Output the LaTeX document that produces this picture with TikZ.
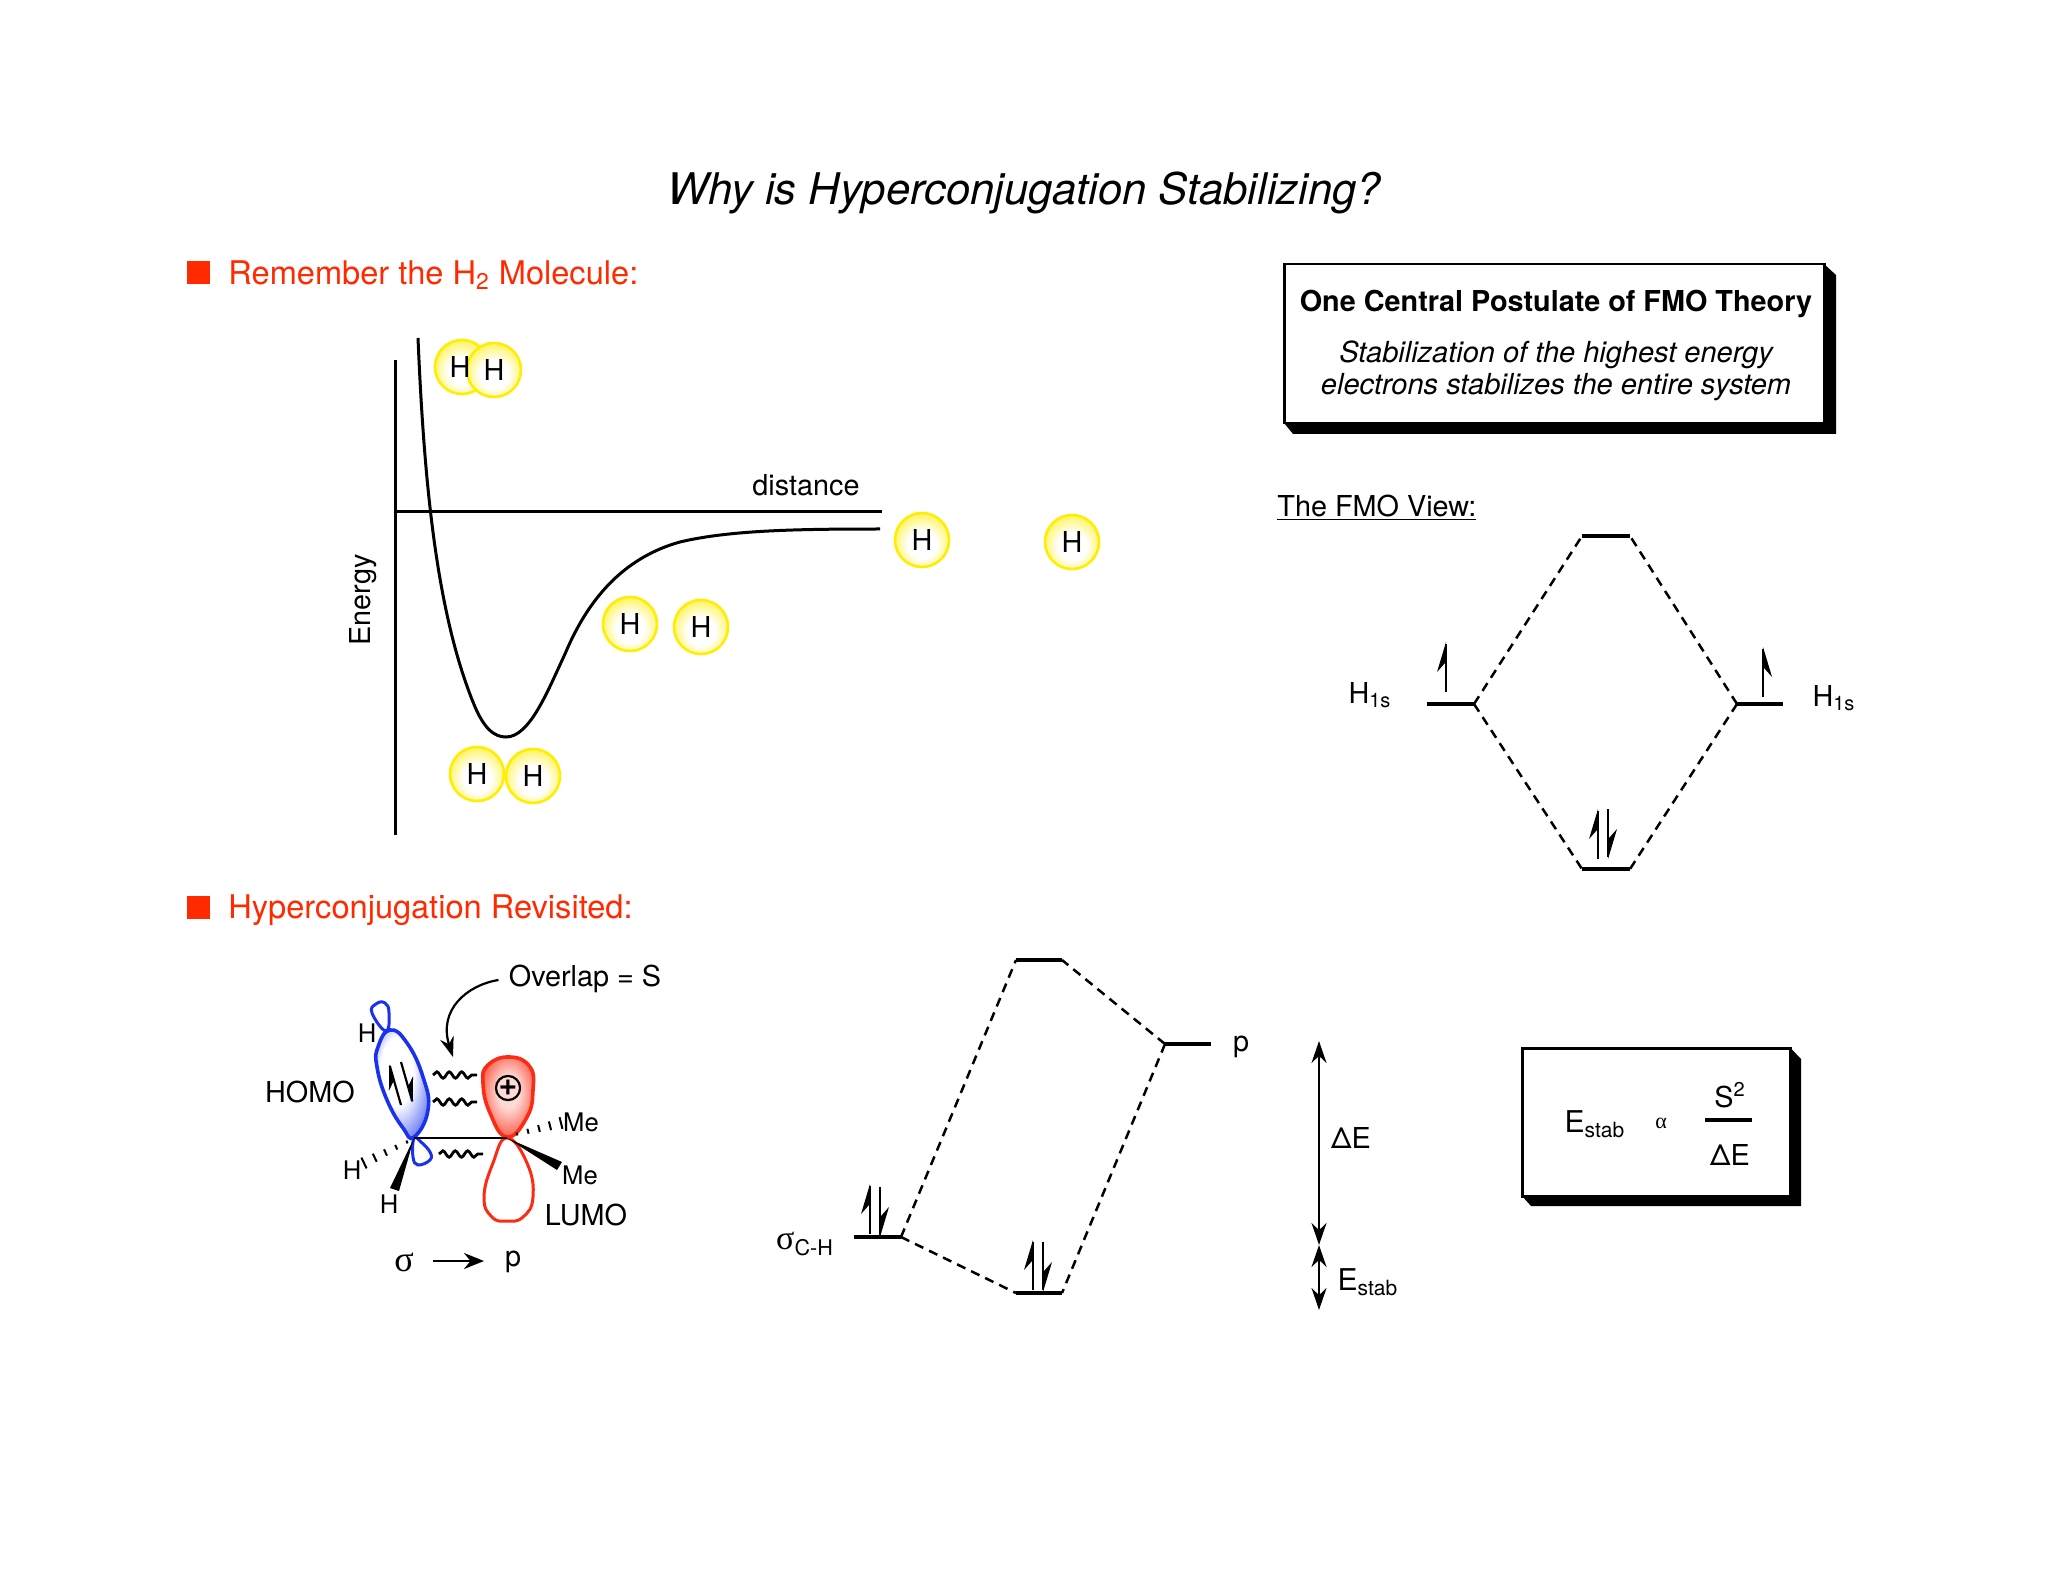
\documentclass[tikz,border=0pt]{standalone}
\usepackage{fontspec}
\setmainfont{TeX Gyre Heros}
\newfontfamily\greekfont{Liberation Serif}
\usetikzlibrary{arrows.meta,calc,decorations.pathmorphing}
\definecolor{headred}{RGB}{255,42,0}
\definecolor{lobeblue}{RGB}{25,50,235}
\definecolor{lobered}{RGB}{250,45,20}
\definecolor{ballyellow}{RGB}{255,238,0}
\pgfdeclareradialshading{homoshade}{\pgfpoint{-7bp}{8bp}}{color(0bp)=(white); color(15bp)=(white); color(40bp)=(lobeblue); color(60bp)=(lobeblue)}
\pgfdeclareradialshading{lumoshade}{\pgfpoint{0bp}{4bp}}{color(0bp)=(lobered!18); color(10bp)=(lobered!18); color(34bp)=(lobered); color(60bp)=(lobered)}
\pgfdeclareradialshading{ballshade}{\pgfpoint{0bp}{-5bp}}{color(0bp)=(white); color(13bp)=(white); color(27bp)=(ballyellow!60); color(39bp)=(ballyellow); color(60bp)=(ballyellow)}
\newcommand{\fs}[1]{\fontsize{#1}{#1}\selectfont}
\begin{document}
\begin{tikzpicture}[x=0.5pt,y=-0.5pt,
    pics/spin/.style={code={
      \draw[line width=1.1pt] (0,0) -- (0,-48);
      \fill (0,-50) -- (-9,-20) -- (-1,-29) -- cycle;}}]
\tikzstyle{every node}=[inner sep=0pt,font=\fs{14.4}]
\tikzstyle{hatom}=[circle,minimum size=27pt,draw=ballyellow,line width=1.3pt,shade,shading=ballshade,font=\fs{14.4}]
\tikzstyle{heading}=[anchor=west,text=headred,font=\fs{16.3}]
\tikzstyle{axis}=[line width=1.5pt]
\tikzstyle{level}=[line width=1.6pt]
\tikzstyle{dashline}=[line width=1.25pt,dash pattern=on 4.6pt off 3.2pt]
\tikzstyle{bullet}=[fill=headred,minimum size=11.5pt]
\tikzstyle{shadowbox}=[fill=black]
\tikzstyle{framebox}=[draw,fill=white,line width=1.3pt]
\tikzstyle{twohead}=[line width=0.9pt,{Stealth[length=11pt,width=7.5pt]}-{Stealth[length=11pt,width=7.5pt]}]
\tikzstyle{squiggle}=[line width=1.4pt,decorate,decoration={snake,segment length=6.2pt,amplitude=1.6pt}]
\tikzstyle{small}=[font=\fs{12.8}]
\useasboundingbox (0,0) rectangle (2048,1582);

\node[font=\fs{21.8}\itshape] (title) at (1024,193) {Why is Hyperconjugation Stabilizing?};
\node[bullet] (b1) at (198,273) {};
\node[heading] (h1) at (228,275) {Remember the H\textsubscript{2} Molecule:};
\node[bullet] (b2) at (198,907) {};
\node[heading] (h2) at (228,910) {Hyperconjugation Revisited:};

\draw[axis] (395,360) coordinate (ya) -- (395,835) coordinate (yb);
\draw[axis] (395,512) coordinate (xa) -- (882,512) coordinate (xb);
\draw[axis] (418,338) .. controls (424,480) and (436,610) .. (473,702) .. controls (484,730) and (495,737) .. (506,737) .. controls (530,737) and (548,690) .. (565,654) .. controls (583,611) and (615,560) .. (680,542) .. controls (730,530) and (800,529) .. (880,529);
\node[rotate=90] (energy) at (363,600) {Energy};
\node (dist) at (806,485) {distance};
\node[hatom] (ha) at (462,367) {};
\node[hatom] (hb) at (494,370) {H};
\node[font=\fs{14.4}] (hat) at (460,367) {H};
\node[hatom] (hc) at (922,540) {H};
\node[hatom] (hd) at (1072,542) {H};
\node[hatom] (he) at (630,624) {H};
\node[hatom] (hf) at (701,627) {H};
\node[hatom] (hg) at (477,774) {H};
\node[hatom] (hh) at (533,776) {H};

\fill[shadowbox] (1824,264) -- (1836,275) -- (1836,434) -- (1293,434) -- (1284,423) -- cycle;
\node[framebox,minimum width=270pt,minimum height=79.5pt] (postbox) at (1554.5,343.5) {};
\node[font=\fs{14.4}\bfseries] (post) at (1556,304) {One Central Postulate of FMO Theory};
\node[font=\fs{14.5}\itshape] (stab1) at (1556,355) {Stabilization of the highest energy};
\node[font=\fs{14.5}\itshape] (stab2) at (1556,387) {electrons stabilizes the entire system};
\node[anchor=west] (view) at (1277,508) {\underline{The FMO View:}};

\coordinate (ta) at (1582,536);
\coordinate (tb) at (1630,536);
\coordinate (la) at (1427,704);
\coordinate (lb) at (1474,704);
\coordinate (ra) at (1737,704);
\coordinate (rb) at (1783,704);
\coordinate (ba) at (1582,869);
\coordinate (bb) at (1630,869);
\draw[level] (ta) -- (tb);
\draw[level] (la) -- (lb);
\draw[level] (ra) -- (rb);
\draw[level] (ba) -- (bb);
\draw[dashline] (lb) -- (ta);
\draw[dashline] (ra) -- (tb);
\draw[dashline] (lb) -- (ba);
\draw[dashline] (ra) -- (bb);
\pic at (1446,692) {spin};
\pic[xscale=-1] at (1763,697) {spin};
\pic at (1598,859) {spin};
\pic[rotate=180] at (1608,809) {spin};
\node (h1sl) at (1370,695) {H\textsubscript{1s}};
\node (h1sr) at (1834,698) {H\textsubscript{1s}};

\draw[lobeblue,line width=1.5pt,fill=white] plot[smooth cycle,tension=0.8] coordinates {(386,1031) (372,1013) (376,1004) (385,1003) (389,1013)};
\draw[lobeblue,line width=1.5pt,fill=white] plot[smooth cycle,tension=0.7] coordinates {(414,1138) (413,1157) (418,1165) (430,1160) (430,1152) (421,1142)};
\draw[lobered,line width=1.5pt,fill=white] plot[smooth cycle,tension=0.8] coordinates {(507,1138) (527,1163) (533,1197) (523,1217) (507,1221) (492,1217) (484,1197) (493,1163)};
\path[shade,shading=homoshade,draw=lobeblue,line width=1.8pt] plot[smooth cycle,tension=0.8] coordinates {(414,1137) (428,1110) (423,1077) (407,1043) (390,1030) (378,1047) (377,1067) (387,1100) (403,1128)};
\path[shade,shading=lumoshade,draw=lobered,line width=1.8pt] plot[smooth cycle,tension=0.8] coordinates {(507,1137) (527,1117) (533,1090) (530,1067) (510,1057) (488,1065) (483,1083) (490,1113)};
\pic[rotate=16,scale=0.85] at (401,1105) {spin};
\pic[rotate=196,scale=0.85] at (401,1062) {spin};
\node[circle,draw,line width=1.1pt,minimum size=12pt,font=\fs{16}\bfseries] (plus) at (508,1088) {+};
\coordinate (ca) at (414,1138);
\coordinate (cb) at (507,1138);
\draw[line width=1.3pt] (ca) -- (cb);
\fill (ca) -- (390,1188) -- (399,1191) -- cycle;
\fill (cb) -- (562,1162) -- (557,1170) -- cycle;
\coordinate (hla) at (407,1142);
\coordinate (hlb) at (364,1163);
\coordinate (hra) at (517,1134);
\coordinate (hrb) at (561,1123);
\foreach \t/\l in {0/1.5,0.25/2.5,0.5/3.5,0.75/4.5,1/6}
  \draw[line width=1pt] ($(hla)!\t!(hlb)$) ++(0.43*\l,0.9*\l) -- ++(-0.86*\l,-1.8*\l);
\foreach \t/\l in {0/1.5,0.25/2.5,0.5/3.5,0.75/4.5,1/6}
  \draw[line width=1pt] ($(hra)!\t!(hrb)$) ++(0.24*\l,0.97*\l) -- ++(-0.48*\l,-1.94*\l);
\foreach \x/\y in {433/1075,433/1102,439/1154}
  \draw[squiggle] (\x,\y) -- ++(44,0);
\node (over) at (585,979) {Overlap = S};
\coordinate (overtip) at (453,1057);
\draw[line width=1.1pt,-{Stealth[length=10pt,width=7pt]}] (over.west) ++(-10,1) .. controls (467,985) and (438,1010) .. (overtip);
\node (homo) at (310,1092) {HOMO};
\node (lumo) at (586,1215) {LUMO};
\node[small] (hu) at (367,1033) {H};
\node[small] (hl) at (352,1170) {H};
\node[small] (hd2) at (389,1204) {H};
\node[small] (mea) at (581,1122) {Me};
\node[small] (meb) at (580,1175) {Me};
\node[font=\fs{18}\greekfont] (sig) at (404,1262) {σ};
\node (pp) at (513,1262) {p};
\coordinate (sa) at (433,1261);
\coordinate (sb) at (484,1261);
\draw[line width=1.3pt,-{Stealth[length=10pt,width=8pt]}] (sa) -- (sb);

\coordinate (mta) at (1016,960);
\coordinate (mtb) at (1062,960);
\coordinate (pa) at (1165,1044);
\coordinate (pb) at (1211,1044);
\coordinate (sga) at (854,1237);
\coordinate (sgb) at (901,1237);
\coordinate (mba) at (1016,1293);
\coordinate (mbb) at (1062,1293);
\draw[level] (mta) -- (mtb);
\draw[level] (pa) -- (pb);
\draw[level] (sga) -- (sgb);
\draw[level] (mba) -- (mbb);
\draw[dashline] (sgb) -- (mta);
\draw[dashline] (pa) -- (mtb);
\draw[dashline] (pa) -- (mbb);
\draw[dashline] (sgb) -- (mba);
\pic at (870,1234) {spin};
\pic[rotate=180] at (880,1187) {spin};
\pic at (1033,1290) {spin};
\pic[rotate=180] at (1043,1242) {spin};
\node (pl) at (1241,1047) {p};
\node[font=\fs{15.4}] (sigch) at (805,1244) {{\greekfont\fs{17}σ}\textsubscript{C-H}};

\coordinate (ea) at (1319,1041);
\coordinate (eb) at (1319,1245);
\coordinate (ec) at (1319,1310);
\draw[twohead] (ea) -- (eb);
\draw[twohead] (eb) -- (ec);
\node (de) at (1351,1138) {ΔE};
\node[font=\fs{15}] (est) at (1368,1282) {E\textsubscript{stab}};

\fill[shadowbox] (1790.5,1048) -- (1801,1059) -- (1801,1206) -- (1531,1206) -- (1522.5,1196.5) -- cycle;
\node[framebox,minimum width=134pt,minimum height=74pt] (estbox) at (1656.5,1122.5) {};
\node[font=\fs{15}] (estb) at (1595,1124) {E\textsubscript{stab}};
\node[font=\fs{11}\greekfont] (alp) at (1661,1123) {α};
\coordinate (fa) at (1705,1120);
\coordinate (fb) at (1752,1120);
\draw[line width=1.6pt] (fa) -- (fb);
\node (snum) at (1730,1095) {S\textsuperscript{2}};
\node (sden) at (1730,1155) {ΔE};
\end{tikzpicture}
\end{document}
